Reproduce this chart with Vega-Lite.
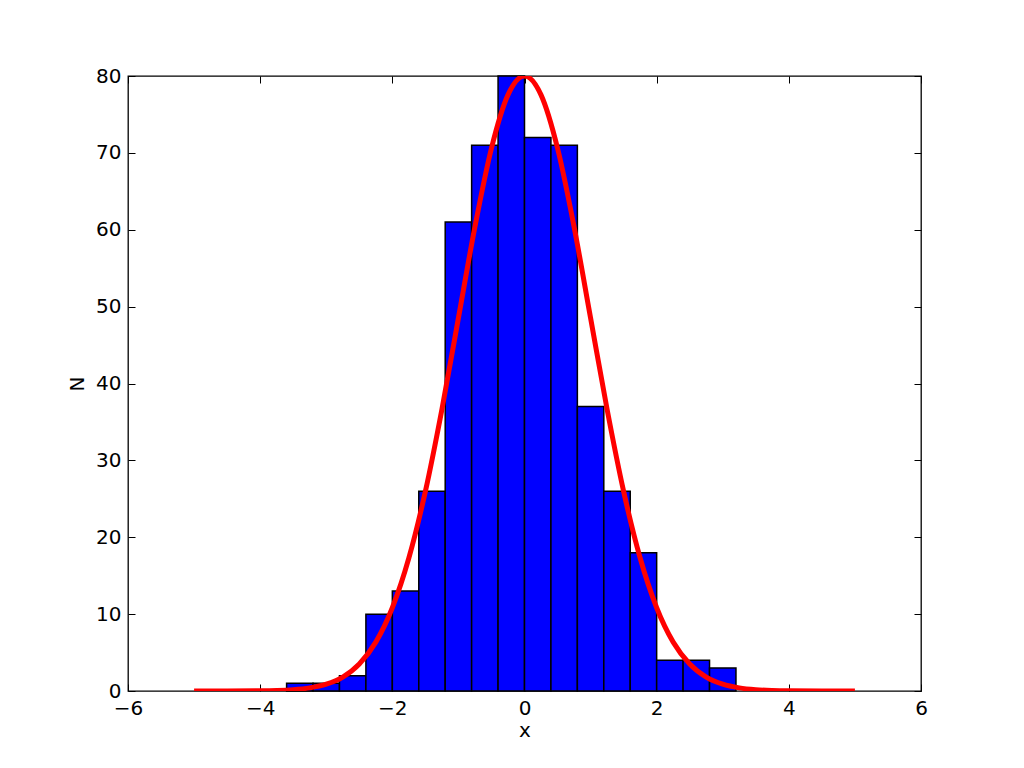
{
  "$schema": "https://vega.github.io/schema/vega-lite/v6.json",
  "autosize": "none",
  "padding": {"left": 128, "top": 76, "right": 103, "bottom": 77},
  "width": 793,
  "height": 615,
  "background": "white",
  "config": {
    "view": {"stroke": "black", "strokeWidth": 1.3},
    "axis": {
      "grid": false,
      "domain": false,
      "tickColor": "black",
      "tickSize": -7,
      "tickWidth": 1,
      "labelFont": "DejaVu Sans",
      "labelFontSize": 20,
      "labelColor": "black",
      "titleFont": "DejaVu Sans",
      "titleFontSize": 20,
      "titleFontWeight": "normal",
      "titleColor": "black"
    }
  },
  "datasets": {
    "hist": [
      {"start": -3.6, "end": -3.2, "n": 1},
      {"start": -3.2, "end": -2.8, "n": 1},
      {"start": -2.8, "end": -2.4, "n": 2},
      {"start": -2.4, "end": -2.0, "n": 10},
      {"start": -2.0, "end": -1.6, "n": 13},
      {"start": -1.6, "end": -1.2, "n": 26},
      {"start": -1.2, "end": -0.8, "n": 61},
      {"start": -0.8, "end": -0.4, "n": 71},
      {"start": -0.4, "end": 0.0, "n": 80},
      {"start": 0.0, "end": 0.4, "n": 72},
      {"start": 0.4, "end": 0.8, "n": 71},
      {"start": 0.8, "end": 1.2, "n": 37},
      {"start": 1.2, "end": 1.6, "n": 26},
      {"start": 1.6, "end": 2.0, "n": 18},
      {"start": 2.0, "end": 2.4, "n": 4},
      {"start": 2.4, "end": 2.8, "n": 4},
      {"start": 2.8, "end": 3.2, "n": 3}
    ],
    "curve": [
      {"x": -5.0, "y": 0.0},
      {"x": -4.5, "y": 0.003},
      {"x": -4.0, "y": 0.027},
      {"x": -3.75, "y": 0.07},
      {"x": -3.5, "y": 0.175},
      {"x": -3.25, "y": 0.41},
      {"x": -3.0, "y": 0.89},
      {"x": -2.75, "y": 1.82},
      {"x": -2.5, "y": 3.52},
      {"x": -2.25, "y": 6.36},
      {"x": -2.0, "y": 10.83},
      {"x": -1.75, "y": 17.3},
      {"x": -1.5, "y": 25.97},
      {"x": -1.25, "y": 36.63},
      {"x": -1.0, "y": 48.52},
      {"x": -0.75, "y": 60.39},
      {"x": -0.5, "y": 70.6},
      {"x": -0.25, "y": 77.54},
      {"x": 0.0, "y": 80.0},
      {"x": 0.25, "y": 77.54},
      {"x": 0.5, "y": 70.6},
      {"x": 0.75, "y": 60.39},
      {"x": 1.0, "y": 48.52},
      {"x": 1.25, "y": 36.63},
      {"x": 1.5, "y": 25.97},
      {"x": 1.75, "y": 17.3},
      {"x": 2.0, "y": 10.83},
      {"x": 2.25, "y": 6.36},
      {"x": 2.5, "y": 3.52},
      {"x": 2.75, "y": 1.82},
      {"x": 3.0, "y": 0.89},
      {"x": 3.25, "y": 0.41},
      {"x": 3.5, "y": 0.175},
      {"x": 3.75, "y": 0.07},
      {"x": 4.0, "y": 0.027},
      {"x": 4.5, "y": 0.003},
      {"x": 5.0, "y": 0.0}
    ]
  },
  "layer": [
    {
      "data": {"name": "hist"},
      "mark": {"type": "bar", "fill": "#0000ff", "stroke": "black", "strokeWidth": 1.5},
      "encoding": {
        "x": {
          "field": "start", "type": "quantitative",
          "scale": {"domain": [-6, 6], "nice": false, "zero": false},
          "axis": {"orient": "bottom", "title": "x", "values": [-6, -4, -2, 0, 2, 4, 6], "format": "d", "labelPadding": 14, "titlePadding": 2, "labelFlush": false, "labelFontSize": 20, "titleFontSize": 20}
        },
        "x2": {"field": "end"},
        "y": {
          "field": "n", "type": "quantitative",
          "scale": {"domain": [0, 80], "nice": false},
          "axis": {"orient": "left", "title": "N", "values": [0, 10, 20, 30, 40, 50, 60, 70, 80], "labelPadding": 14, "titlePadding": 8, "labelFlush": false, "labelFontSize": 20, "titleFontSize": 20}
        },
        "y2": {"datum": 0}
      }
    },
    {
      "data": {"name": "curve"},
      "mark": {"type": "line", "color": "#ff0000", "strokeWidth": 5, "interpolate": "monotone", "clip": true},
      "encoding": {
        "x": {
          "field": "x", "type": "quantitative",
          "axis": {"orient": "top", "title": null, "labels": false, "values": [-6, -4, -2, 0, 2, 4, 6]}
        },
        "y": {
          "field": "y", "type": "quantitative",
          "axis": {"orient": "right", "title": null, "labels": false, "values": [0, 10, 20, 30, 40, 50, 60, 70, 80]}
        }
      }
    }
  ],
  "resolve": {"axis": {"x": "independent", "y": "independent"}}
}
